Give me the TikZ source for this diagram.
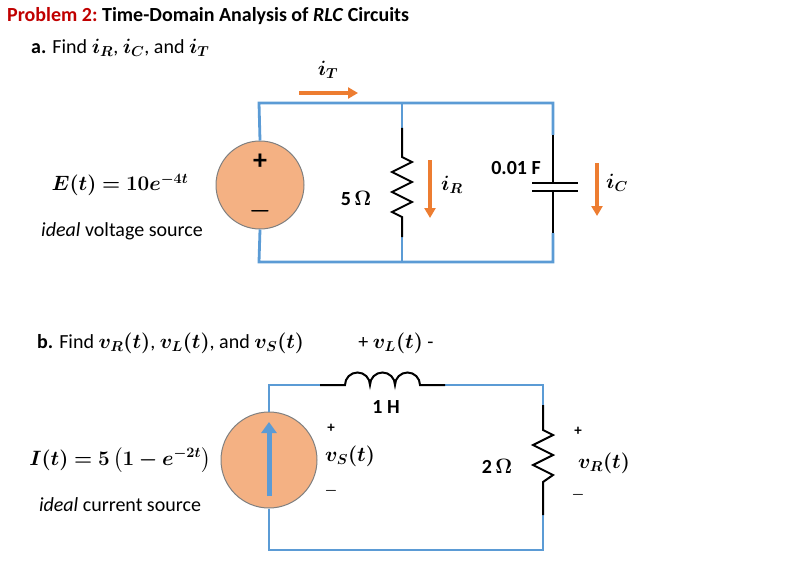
\documentclass[tikz,border=0pt]{standalone}
\usepackage{amsmath,bm}
\usepackage{fontspec}
\setmainfont{Carlito}
\usetikzlibrary{arrows.meta}
\definecolor{wire}{HTML}{5B9BD5}
\definecolor{org}{HTML}{ED7D31}
\definecolor{src}{HTML}{F4B183}
\definecolor{ttl}{HTML}{C00000}
\tikzset{w/.style={wire,line width=2.8pt},
 comp/.style={black,line width=2pt},
 cur/.style={org,line width=3.2pt,-{Triangle[length=10pt,width=11pt]}},
 srcc/.style={circle,draw=gray,fill=src,line width=1pt,minimum size=88pt,inner sep=0pt},
 lbl/.style={font=\fontsize{20}{24}\selectfont,inner sep=1pt},
 bl/.style={font=\fontsize{20}{24}\selectfont\bfseries,inner sep=1pt},
 sm/.style={font=\fontsize{15}{18}\selectfont\bfseries,inner sep=1pt}}
\begin{document}
\begin{tikzpicture}[x=1pt,y=-1pt]
\useasboundingbox (0,0) rectangle (792,567);
% titles
\node[anchor=west,bl] (t) at (6,16) {\textcolor{ttl}{Problem 2:}\ Time-Domain Analysis of \textit{RLC} Circuits};
\node[anchor=west,lbl] (ta) at (30,48) {\textbf{a.} Find $\bm{i_R}$, $\bm{i_C}$, and $\bm{i_T}$};
% part a
\node[srcc] (E) at (260,185) {};
\node[font=\fontsize{28}{30}\selectfont\bfseries] (ep) at (260,162) {+};
\node[font=\fontsize{24}{30}\selectfont] (em) at (260,211) {$\bm{-}$};
\coordinate (tl) at (259,103); \coordinate (tr) at (553,103);
\coordinate (bl) at (259,262); \coordinate (br) at (553,262);
\coordinate (rt) at (402,103); \coordinate (rb) at (402,262);
\draw[w] (E.north) -- (tl) -- (tr) -- (553,135);
\draw[w] (E.south) -- (bl) -- (br) -- (553,233);
\draw[w] (rt) -- (402,128); \draw[w] (rb) -- (402,237);
\draw[comp] (402,128) -- (402,157) -- (412,162) -- (392,172) -- (412,182) -- (392,192) -- (412,202) -- (392,212) -- (402,217) -- (402,237);
\draw[comp] (553,135) -- (553,183) (553,191) -- (553,233);
\draw[comp] (532,183) -- (578,183) (532,191) -- (578,191);
\node[bl] (r5) at (356,198) {5\,$\bm{\Omega}$};
\node[bl] (cf) at (516,168) {0.01 F};
\coordinate (a1) at (299,93); \coordinate (a2) at (358,93);
\draw[cur] (a1) -- (a2);
\node[lbl] (iT) at (328,70) {$\bm{i_T}$};
\coordinate (r1) at (430,160); \coordinate (r2) at (430,218);
\draw[cur] (r1) -- (r2);
\node[lbl] (iR) at (452,185) {$\bm{i_R}$};
\coordinate (c1) at (597,163); \coordinate (c2) at (597,216);
\draw[cur] (c1) -- (c2);
\node[lbl] (iC) at (617,183) {$\bm{i_C}$};
\node[lbl] (Et) at (120,185) {$\bm{E(t) = 10e^{-4t}}$};
\node[lbl] (ideal1) at (122,231) {\textit{ideal} voltage source};
% part b
\node[anchor=west,lbl] (tb) at (36,343) {\textbf{b.} Find $\bm{v_R(t)}$, $\bm{v_L(t)}$, and $\bm{v_S(t)}$};
\node[lbl] (vl) at (396,343) {+ $\bm{v_L(t)}$ -};
\node[srcc,minimum size=96pt] (I) at (269,460) {};
\draw[wire,line width=5pt,-{Triangle[length=11pt,width=15pt]}] (I.center) ++(0,36) -- ++(0,-74);
\coordinate (btl) at (269,385); \coordinate (btr) at (543,385);
\coordinate (bbl) at (269,550); \coordinate (bbr) at (543,550);
\draw[w] (I.north) -- (btl) -- (320,385);
\draw[w] (445,385) -- (btr) -- (543,405);
\draw[w] (I.south) -- (bbl) -- (bbr) -- (543,515);
\draw[comp] (320,385) -- (345,385) arc(180:360:12.5) arc(180:360:12.5) arc(180:360:12.5) -- (445,385);
\draw[comp] (543,405) -- (543,430) -- (553,435) -- (533,445) -- (553,455) -- (533,465) -- (553,475) -- (543,482) -- (543,487) -- (543,515);
\node[bl] (h1) at (386,407) {1 H};
\node[bl] (r2o) at (497,466) {2\,$\bm{\Omega}$};
\node[sm] (sp) at (331,428) {+};
\node[lbl] (vs) at (350,456) {$\bm{v_S(t)}$};
\node[sm] (smn) at (331,491) {$\bm{-}$};
\node[sm] (rp) at (578,431) {+};
\node[lbl] (vr) at (604,463) {$\bm{v_R(t)}$};
\node[sm] (rm) at (578,495) {$\bm{-}$};
\node[lbl] (It) at (120,460) {$\bm{I(t) = 5\left(1-e^{-2t}\right)}$};
\node[lbl] (ideal2) at (120,505) {\textit{ideal} current source};
\end{tikzpicture}
\end{document}
